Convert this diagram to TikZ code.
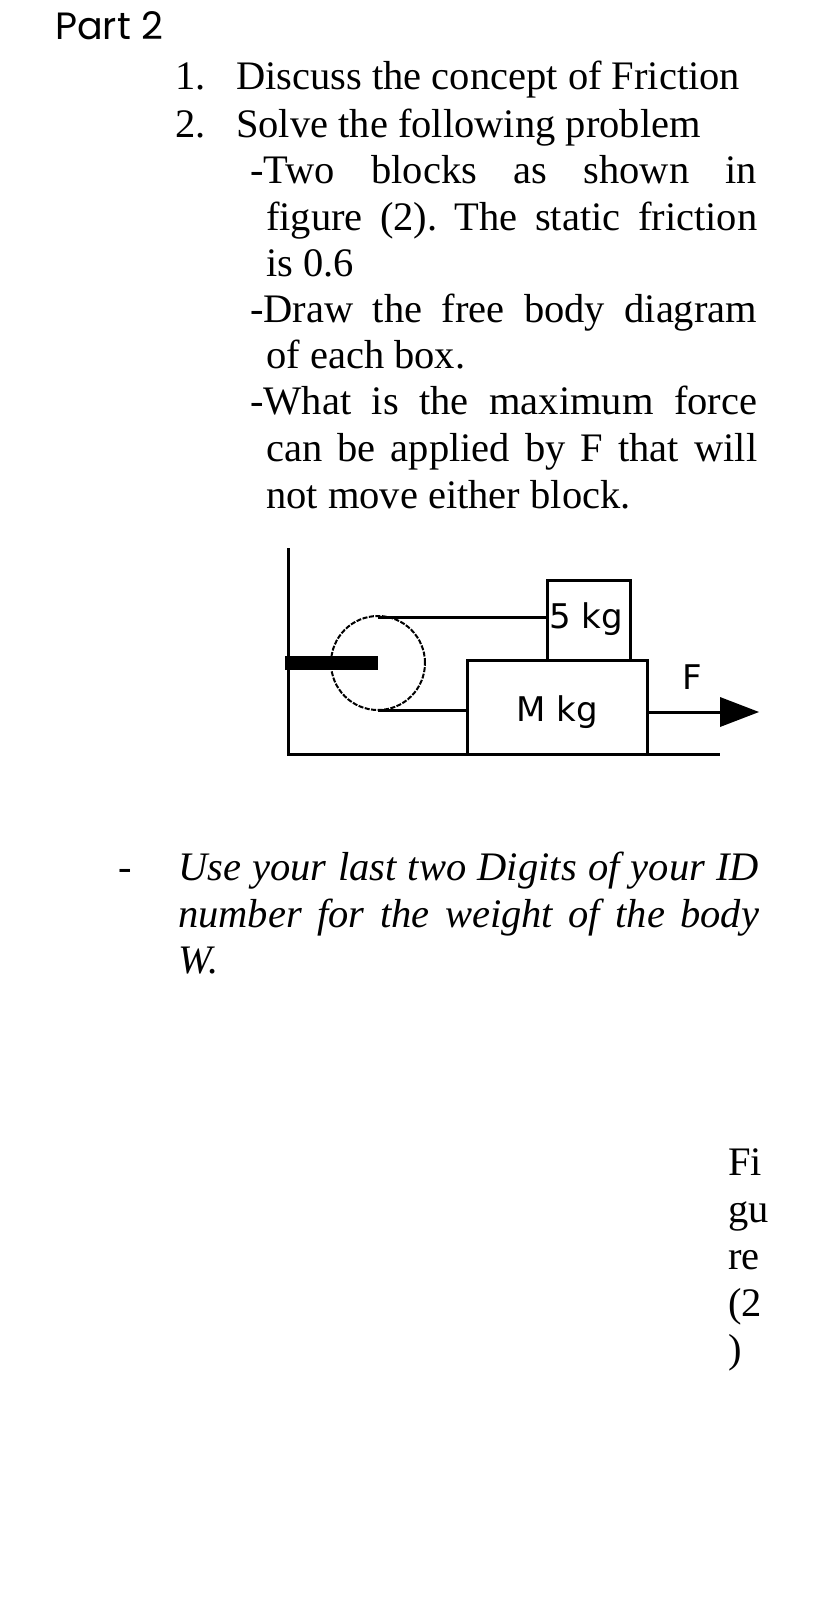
\documentclass[tikz,border=0pt]{standalone}
\usepackage{fontspec}
\setmainfont{Liberation Serif}
\newfontfamily\labfont{DejaVu Sans}
\newfontfamily\partfont{Poppins}
\frenchspacing
\begin{document}
\begin{tikzpicture}[x=1pt,y=-1pt,
  txt/.style={anchor=base west,inner sep=0pt,font=\fontsize{40.5}{44}\selectfont},
  itx/.style={txt,font=\fontsize{40.5}{44}\selectfont\itshape},
  line/.style={line width=3pt},
  lab/.style={font=\labfont\fontsize{34}{36}\selectfont,inner sep=0pt}]
\useasboundingbox (0,0) rectangle (828,1600);
\node[anchor=base west,inner sep=0pt,font=\partfont\fontsize{38}{40}\selectfont] (p) at (55,40) {Part 2};
\node[txt] (n1) at (175,90) {1.};
\node[txt] (l1) at (236,90) {Discuss the concept of Friction};
\node[txt] (n2) at (175,137) {2.};
\node[txt] (l2) at (236,137) {Solve the following problem};
\node[txt] (a1) at (250,183) {\makebox[507pt][s]{-Two blocks as shown in}};
\node[txt] (a2) at (266,230) {\makebox[491pt][s]{figure (2). The static friction}};
\node[txt] (a3) at (266,276) {is 0.6};
\node[txt] (b1) at (250,322) {\makebox[507pt][s]{-Draw the free body diagram}};
\node[txt] (b2) at (266,368) {of each box.};
\node[txt] (c1) at (250,414) {\makebox[507pt][s]{-What is the maximum force}};
\node[txt] (c2) at (266,461) {\makebox[491pt][s]{can be applied by F that will}};
\node[txt] (c3) at (266,508) {not move either block.};
% diagram
\coordinate (wt) at (288,548);
\coordinate (wb) at (288,754);
\coordinate (fe) at (720,754);
\draw[line] (wt) -- (wb) -- (fe);
\node[draw,line width=2pt,dash pattern=on 5pt off 1.5pt,circle,minimum size=94pt,inner sep=0pt] (pul) at (378,663) {};
\fill (285,656) rectangle (378,670);
\node[draw,line width=3pt,minimum width=83pt,minimum height=80pt,inner sep=0pt] (s) at (588.5,620) {};
\node[lab] at (586,619) {5 kg};
\node[draw,line width=3pt,minimum width=180pt,minimum height=94pt,inner sep=0pt] (m) at (557,707) {};
\node[lab] at (557,712) {M kg};
\draw[line] (378,617) -- (s.west |- 0,617);
\draw[line] (378,710) -- (m.west |- 0,710);
\coordinate (ae) at (722,712);
\draw[line] (m.east |- 0,712) -- (ae);
\fill (720,697) -- (759,712) -- (720,727) -- cycle;
\node[lab] (F) at (692,677) {F};
% italic
\node[txt] (d) at (118,880) {-};
\node[itx] (i1) at (178,880) {\makebox[581pt][s]{Use your last two Digits of your ID}};
\node[itx] (i2) at (178,927) {\makebox[581pt][s]{number for the weight of the body}};
\node[itx] (i3) at (178,973) {W.};
\node[txt] at (728,1175) {Fi};
\node[txt] at (728,1222) {gu};
\node[txt] at (728,1269) {re};
\node[txt] at (728,1316) {(2};
\node[txt] at (728,1362) {)};
\end{tikzpicture}
\end{document}
